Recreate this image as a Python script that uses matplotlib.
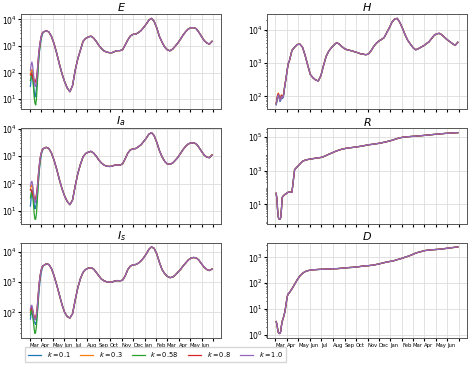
import pandas as pd
import matplotlib
matplotlib.use("Agg")
import matplotlib.pyplot as plt

# dates: dense at the start, weekly afterwards
head_dates = pd.date_range("2020-03-03", periods=17, freq="2D")
tail_dates = pd.date_range("2020-04-07", periods=65, freq="7D")

k_labels = ["$k = 0.1$", "$k = 0.3$", "$k = 0.58$", "$k = 0.8$", "$k = 1.0$"]

# ---- E ----
E_head = [
    [30, 60, 120, 90, 40, 20, 12, 15, 25, 50, 120, 300, 600, 1000, 1600, 2200, 2800],
    [90, 110, 130, 110, 70, 50, 40, 45, 55, 90, 200, 450, 800, 1300, 2000, 2600, 3100],
    [50, 70, 80, 60, 30, 12, 7, 6, 10, 30, 100, 300, 700, 1200, 1800, 2500, 3000],
    [80, 90, 85, 70, 55, 45, 45, 50, 60, 100, 220, 500, 900, 1400, 2100, 2700, 3200],
    [120, 200, 250, 180, 90, 50, 30, 30, 45, 90, 220, 500, 900, 1400, 2100, 2700, 3200],
]
E_tail = [3400, 3750, 3400, 2300, 1200, 530, 210, 90, 45, 26, 19, 32, 120, 330, 700,
          1500, 1930, 2200, 2350, 2000, 1500, 1050, 800, 650, 590, 560, 560, 620, 670,
          670, 720, 1100, 1700, 2400, 2750, 2800, 3200, 3800, 5000, 6700, 9500, 11000,
          8500, 4800, 2300, 1400, 920, 720, 660, 760, 980, 1300, 1800, 2600, 3500, 4400,
          4900, 4900, 4500, 3300, 2300, 1600, 1300, 1180, 1500]

# ---- I_a ----
Ia_head = [
    [15, 30, 60, 50, 30, 18, 12, 14, 20, 35, 70, 160, 330, 600, 950, 1300, 1600],
    [60, 80, 90, 70, 45, 30, 25, 28, 35, 60, 120, 260, 480, 800, 1150, 1450, 1750],
    [30, 45, 50, 35, 18, 8, 5, 5, 8, 20, 60, 170, 400, 700, 1050, 1400, 1700],
    [60, 55, 50, 45, 35, 28, 25, 30, 40, 65, 130, 280, 520, 850, 1200, 1500, 1800],
    [80, 110, 120, 90, 50, 30, 20, 22, 32, 60, 130, 280, 520, 850, 1200, 1500, 1800],
]
Ia_tail = [1900, 2100, 1900, 1300, 700, 330, 140, 65, 35, 22, 17, 25, 80, 230, 500,
           950, 1250, 1400, 1500, 1300, 1000, 720, 560, 470, 430, 420, 430, 470, 480,
           470, 520, 800, 1300, 1700, 1850, 1900, 2200, 2600, 3400, 4500, 6300, 7200,
           5600, 3200, 1600, 950, 650, 520, 500, 560, 700, 900, 1250, 1750, 2300, 2800,
           3050, 3050, 2800, 2100, 1500, 1100, 920, 880, 1100]

# ---- I_s ----
Is_head = [
    [60, 90, 110, 80, 55, 50, 45, 40, 50, 80, 160, 350, 700, 1200, 1800, 2400, 3000],
    [100, 140, 150, 120, 90, 70, 60, 65, 80, 130, 260, 550, 1000, 1600, 2200, 2800, 3300],
    [80, 120, 130, 90, 50, 28, 20, 22, 35, 80, 200, 500, 1000, 1600, 2200, 2800, 3300],
    [120, 150, 140, 110, 85, 70, 65, 70, 90, 140, 280, 600, 1050, 1650, 2300, 2900, 3400],
    [130, 170, 170, 130, 90, 65, 55, 60, 80, 140, 280, 600, 1050, 1650, 2300, 2900, 3400],
]
Is_tail = [3500, 4000, 3800, 2800, 1600, 800, 380, 180, 100, 72, 65, 90, 250, 650, 1300,
           2100, 2600, 2900, 3000, 2700, 2100, 1600, 1250, 1100, 1020, 980, 1000, 1080,
           1120, 1100, 1150, 1600, 2600, 3400, 3700, 3800, 4200, 5000, 6300, 8500, 12000,
           14500, 13000, 8500, 4500, 2600, 1900, 1550, 1400, 1450, 1700, 2100, 2600, 3400,
           4300, 5400, 6200, 6500, 6300, 5300, 4000, 3100, 2600, 2400, 2700]

# ---- H ----
H_head = [
    [55, 70, 95, 110, 90, 70, 75, 95, 85, 90, 110, 170, 240, 330, 480, 680, 950],
    [60, 85, 115, 125, 100, 80, 90, 110, 95, 100, 120, 180, 250, 340, 490, 690, 950],
    [60, 80, 105, 115, 95, 75, 85, 105, 90, 95, 115, 175, 245, 335, 485, 685, 950],
    [60, 80, 110, 120, 95, 78, 88, 108, 92, 98, 118, 178, 248, 338, 488, 688, 950],
    [58, 78, 100, 112, 92, 72, 80, 100, 88, 92, 112, 172, 242, 332, 482, 682, 950],
]
H_tail = [1150, 2400, 3000, 3600, 3700, 3000, 1700, 850, 450, 360, 310, 290, 420, 850,
          1600, 2300, 2900, 3500, 4100, 3700, 3100, 2700, 2500, 2400, 2300, 2150, 2050,
          1900, 1850, 1780, 1850, 2300, 3100, 3900, 4600, 5100, 5800, 8200, 11500, 17000,
          21000, 22000, 16500, 11000, 7000, 4800, 3700, 2900, 2500, 2700, 3000, 3300, 3800,
          4300, 5400, 6800, 7600, 7800, 7000, 5900, 5000, 4400, 3800, 3400, 4200]

# ---- R ----
R_head = [45, 20, 4, 1.6, 1.3, 1.3, 1.6, 5, 25, 30, 33, 36, 40, 42, 45, 50, 52]
R_tail = [53, 53, 1150, 1700, 2500, 3600, 4200, 4600, 4900, 5200, 5500, 5800, 6100,
          6800, 8000, 9500, 11000, 13000, 15000, 17000, 19000, 20500, 22000, 23000, 24000,
          25000, 26500, 28000, 30000, 32000, 34500, 36000, 38000, 40000, 42000, 45000,
          49000, 53000, 58000, 64000, 72000, 81000, 90000, 96000, 100000, 104000, 107000,
          110000, 113000, 116000, 120000, 124000, 128000, 133000, 138000, 143000, 148000,
          153000, 158000, 163000, 167000, 171000, 175000, 178000, 182000]

# ---- D ----
D_head = [3.2, 2.5, 1.6, 1.2, 1.1, 1.1, 1.3, 2.2, 3.2, 4, 5, 6.5, 9, 14, 22, 32, 38]
D_tail = [42, 60, 90, 135, 190, 240, 280, 305, 320, 330, 335, 340, 345, 348, 352, 355,
          360, 363, 366, 372, 380, 388, 398, 405, 410, 420, 430, 445, 460, 470, 478, 490,
          505, 530, 555, 590, 625, 660, 690, 720, 760, 820, 870, 940, 1020, 1100, 1200,
          1330, 1470, 1580, 1680, 1790, 1880, 1940, 1980, 2010, 2040, 2080, 2130, 2200,
          2270, 2340, 2410, 2490, 2560]

dates = list(head_dates) + list(tail_dates)

panels = [
    ("$E$", E_head, E_tail),
    ("$H$", H_head, H_tail),
    ("$I_a$", Ia_head, Ia_tail),
    ("$R$", [R_head] * 5, R_tail),
    ("$I_s$", Is_head, Is_tail),
    ("$D$", [D_head] * 5, D_tail),
]

fig, axes = plt.subplots(3, 2, figsize=(4.74, 3.70), dpi=100, sharex=True)
fig.subplots_adjust(left=0.045, right=0.985, bottom=0.087, top=0.962,
                    wspace=0.23, hspace=0.2)

ticks = pd.date_range("2020-03-01", "2021-07-01", freq="MS")
tick_labels = [t.strftime("%b") for t in ticks[:-1]] + [""]

for ax, (title, heads, tail) in zip(axes.flat, panels):
    for i in range(5):
        ax.plot(dates, list(heads[i]) + tail, lw=0.9, label=k_labels[i])
    ax.set_yscale("log")
    ax.set_title(title, fontsize=8, pad=2)
    ax.grid(True, color="#dddddd", lw=0.6)
    ax.tick_params(axis="y", labelsize=5.5, length=2, pad=1)
    ax.tick_params(axis="y", which="minor", length=1)
    ax.tick_params(axis="x", labelsize=3.8, length=2, pad=1.5)
    ax.set_xticks(ticks)
    ax.set_xticklabels(tick_labels, ha="left")
    for s in ax.spines.values():
        s.set_color("#555555")
        s.set_linewidth(0.7)

axes[1, 1].set_yticks([1e1, 1e3, 1e5])

handles, labels = axes[0, 0].get_legend_handles_labels()
fig.legend(handles, labels, loc="lower left", bbox_to_anchor=(0.045, 0.012),
           ncol=5, fontsize=4.8, frameon=True, columnspacing=1.4, handlelength=2.0,
           borderpad=0.5, fancybox=False, edgecolor="#cccccc")

fig.savefig("out.png", dpi=100)
